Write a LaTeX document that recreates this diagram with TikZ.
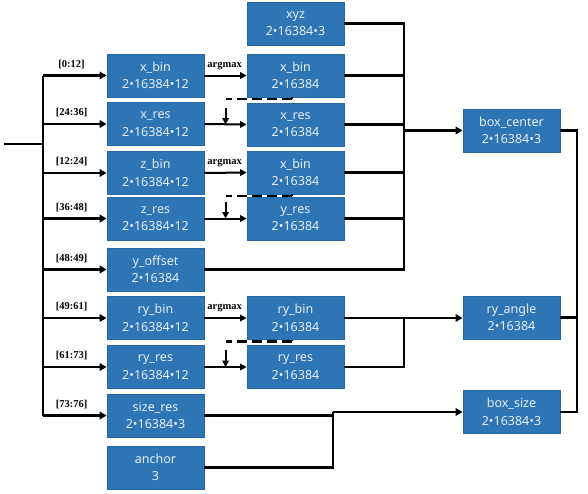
\documentclass[tikz,border=0pt]{standalone}
\usepackage{fontspec}
\setmainfont{Noto Sans}
\newfontfamily\labfont{Liberation Serif}
\usetikzlibrary{arrows.meta}
\definecolor{boxblue}{HTML}{2E75B6}
\definecolor{boxedge}{HTML}{2A68A3}
\definecolor{boxtext}{HTML}{E6EEF7}
\begin{document}
\begin{tikzpicture}[x=1pt,y=-1pt,
  bx/.style={draw=boxedge,line width=0.8pt,fill=boxblue,minimum width=97pt,minimum height=43pt,
    text=boxtext,align=center,inner sep=1pt,font=\fontsize{12.5}{17.5}\selectfont},
  wire/.style={line width=2.6pt,draw=black},
  arr/.style={wire,-{Triangle[length=7pt,width=7.5pt]}},
  thinarr/.style={line width=2pt,-{Triangle[length=6.5pt,width=6.5pt]}},
  dsh/.style={line width=2.6pt,dash pattern=on 10pt off 5pt},
  rng/.style={font=\labfont\bfseries\fontsize{10.5}{11}\selectfont,inner sep=0pt},
  amx/.style={font=\labfont\bfseries\fontsize{10.5}{11}\selectfont,inner sep=0pt}]
\useasboundingbox (0,0) rectangle (588,493);
% left column
\node[bx] (xbin1) at (155.5,75.5) {x\_bin\\2•16384•12};
\node[bx] (xres1) at (155.5,124) {x\_res\\2•16384•12};
\node[bx] (zbin1) at (155.5,173) {z\_bin\\2•16384•12};
\node[bx] (zres1) at (155.5,218.5) {z\_res\\2•16384•12};
\node[bx] (yoff) at (155.5,269.5) {y\_offset\\2•16384};
\node[bx] (rybin1) at (155.5,318) {ry\_bin\\2•16384•12};
\node[bx] (ryres1) at (155.5,367) {ry\_res\\2•16384•12};
\node[bx] (sizeres) at (155.5,415.5) {size\_res\\2•16384•3};
\node[bx] (anchor) at (155.5,467.5) {anchor\\3};
% second column
\node[bx] (xyz) at (295.5,23.5) {xyz\\2•16384•3};
\node[bx] (xbin2) at (295.5,75.5) {x\_bin\\2•16384};
\node[bx] (xres2) at (295.5,124.5) {x\_res\\2•16384};
\node[bx] (xbin3) at (295.5,172.5) {x\_bin\\2•16384};
\node[bx] (yres2) at (295.5,218.5) {y\_res\\2•16384};
\node[bx] (rybin2) at (295.5,318) {ry\_bin\\2•16384};
\node[bx] (ryres2) at (295.5,367) {ry\_res\\2•16384};
% right column
\node[bx] (boxc) at (511.5,130.5) {box\_center\\2•16384•3};
\node[bx] (ryang) at (511.5,317.5) {ry\_angle\\2•16384};
\node[bx] (boxsize) at (511.5,412) {box\_size\\2•16384•3};
% trunk
\coordinate (inp) at (4,144);
\coordinate (tx) at (43,0);
\coordinate (bx1) at (404,0);
\coordinate (bx2) at (577,0);
\coordinate (sx) at (333,0);
\draw[wire] (inp) -- (inp -| tx);
\draw[wire] (xbin1.west -| tx) -- (sizeres.west -| tx);
\foreach \n/\t in {xbin1/{[0:12]},xres1/{[24:36]},zbin1/{[12:24]},zres1/{[36:48]},yoff/{[48:49]},rybin1/{[49:61]},ryres1/{[61:73]},sizeres/{[73:76]}}{
  \draw[arr] (\n.west -| tx) -- (\n.west);
  \node[rng] (lab-\n) at ([xshift=-35pt,yshift=11pt]\n.west) {\t};
}
% argmax arrows
\foreach \a/\b in {xbin1/xbin2,zbin1/xbin3,rybin1/rybin2}{
  \draw[thinarr] (\a.east) -- (\b.west);
  \node[amx] (am-\a) at ([xshift=-22pt,yshift=10pt]\b.west) {argmax};
}
% residual arrows with dashed feedback
\foreach \a/\b/\c in {xres1/xres2/xbin2,zres1/yres2/xbin3,ryres1/ryres2/rybin2}{
  \draw[thinarr] (\a.east) -- (\b.west);
  \coordinate (d1-\b) at ([xshift=-3.5pt,yshift=-1.5pt]\c.south);
  \coordinate (d3-\b) at ([xshift=-21pt,yshift=-5pt]\b.north west);
  \coordinate (d2-\b) at (d3-\b |- d1-\b);
  \draw[line width=2.6pt] (\c.south -| d1-\b) -- (d1-\b);
  \draw[dsh] (d1-\b) -- (d2-\b);
  \draw[thinarr] (d3-\b) -- (\b.west -| d3-\b);
}
% collection to box_center
\draw[wire] (xyz.east) -- (xyz.east -| bx1) -- (yoff.east -| bx1) -- (yoff.east);
\foreach \n in {xbin2,xres2,xbin3,yres2}{
  \draw[wire] (\n.east) -- (\n.east -| bx1);
}
\draw[arr] (boxc.west -| bx1) -- (boxc.west);
% ry
\draw[wire] (rybin2.east) -- (rybin2.east -| bx1);
\draw[wire] (ryres2.east) -- (ryres2.east -| bx1) -- (rybin2.east -| bx1);
\draw[arr] (rybin2.east -| bx1) -- (ryang.west |- rybin2.east);
% size
\draw[wire] (sizeres.east) -- (sizeres.east -| sx) -- (boxsize.west -| sx);
\draw[wire] (anchor.east) -- (anchor.east -| sx) -- (boxsize.west -| sx);
\draw[arr] (boxsize.west -| sx) -- (boxsize.west);
% right bus
\draw[wire] (boxc.east) -- (boxc.east -| bx2) -- (boxsize.east -| bx2) -- (boxsize.east);
\draw[wire] (ryang.east) -- (ryang.east -| bx2);
\end{tikzpicture}
\end{document}
